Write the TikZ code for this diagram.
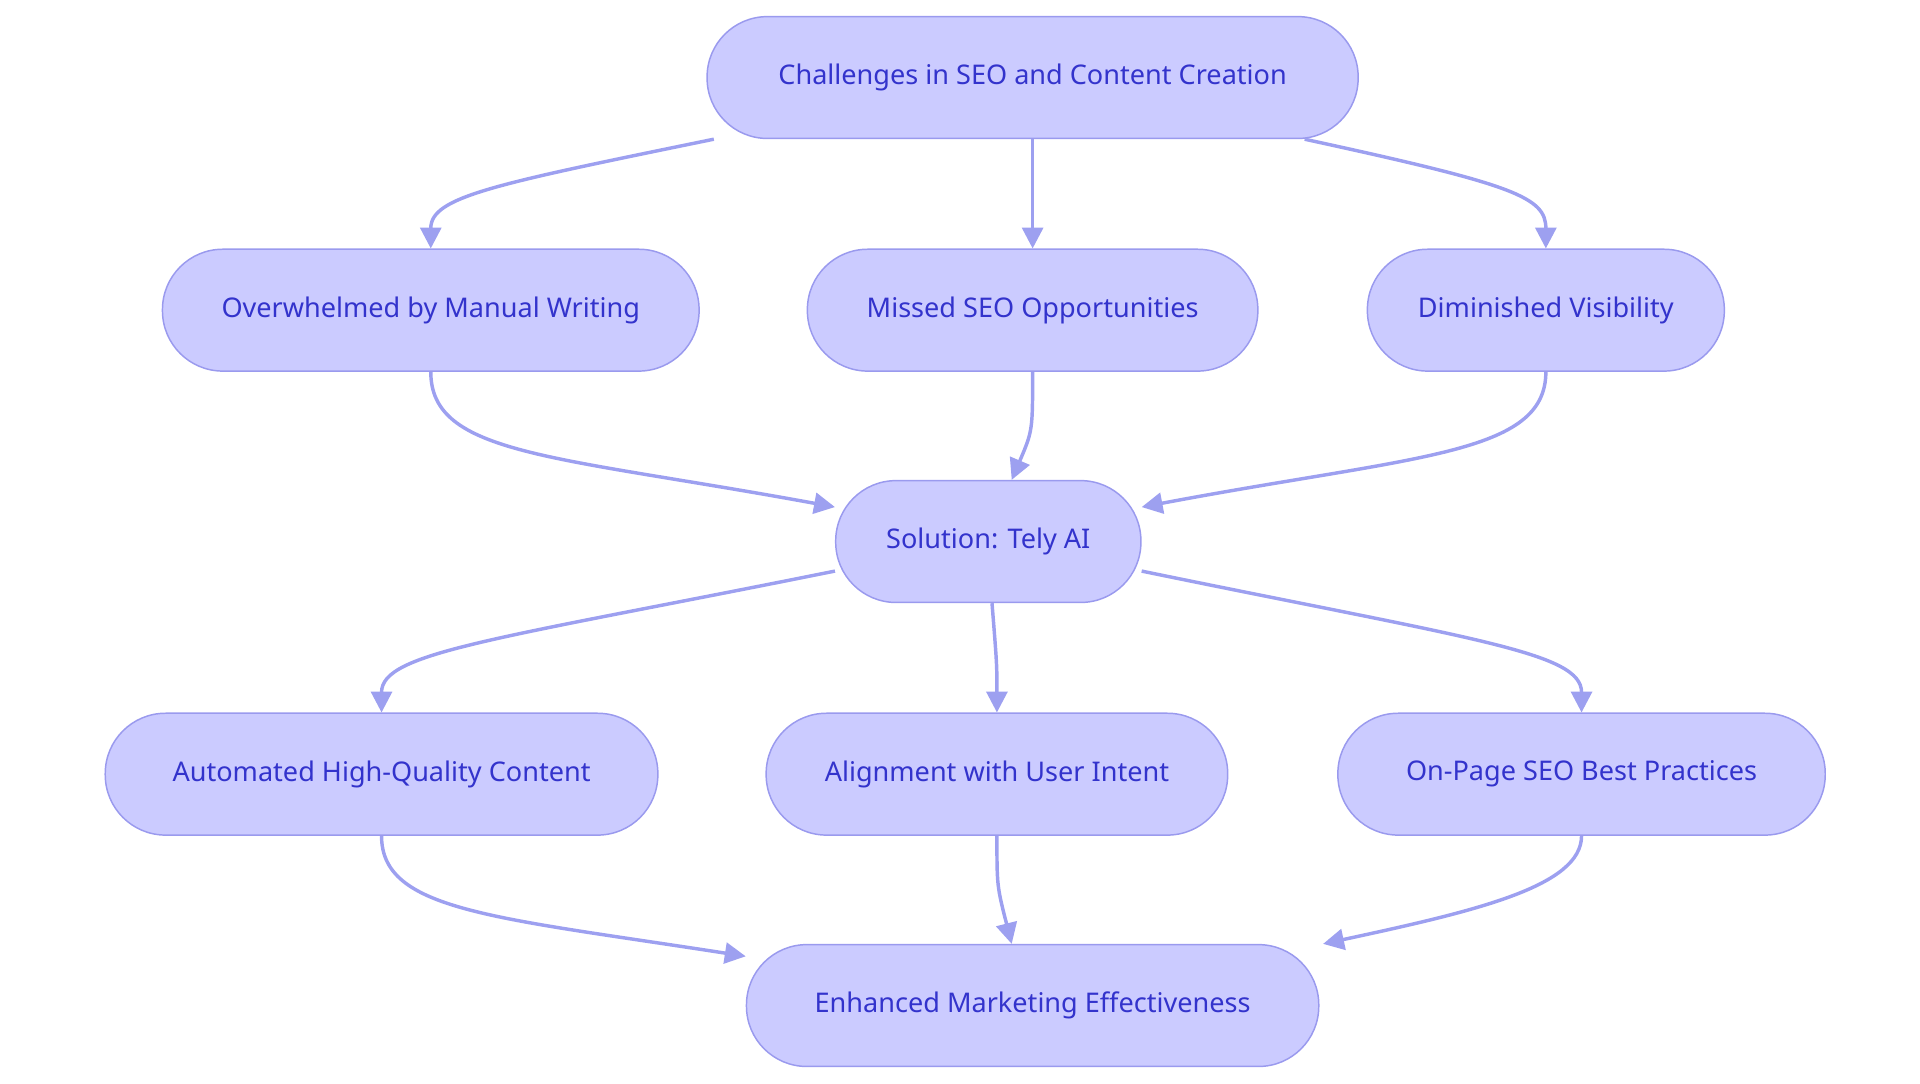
\documentclass[tikz,border=0pt]{standalone}
\usepackage{fontspec}
\setmainfont{Noto Sans}
\usetikzlibrary{arrows.meta,calc}
\definecolor{nfill}{HTML}{CBCBFF}
\definecolor{nline}{HTML}{9A9AEE}
\definecolor{ntext}{HTML}{3333CC}
\definecolor{eline}{HTML}{9DA0F0}
\begin{document}
\begin{tikzpicture}[x=1pt,y=-1pt,
  box/.style={draw=nline,fill=nfill,line width=1.2pt,rounded corners=49pt,minimum height=99pt,inner sep=0pt,text=ntext,font=\fontsize{22}{26}\selectfont},
  e/.style={draw=eline,line width=2.8pt,-{Triangle[length=17pt,width=17pt]}}]
\useasboundingbox (0,0) rectangle (1560,880);
\node[box,minimum width=529pt] (t) at (839,63) {Challenges in SEO and Content Creation};
\node[box,minimum width=436pt] (o) at (350,252) {Overwhelmed by Manual Writing};
\node[box,minimum width=366pt] (m) at (839,252) {Missed SEO Opportunities};
\node[box,minimum width=290pt] (d) at (1256,252) {Diminished Visibility};
\node[box,minimum width=248pt] (s) at (803,440) {Solution: Tely AI};
\node[box,minimum width=449pt] (a) at (310,629) {Automated High-Quality Content};
\node[box,minimum width=375pt] (al) at (810,629) {Alignment with User Intent};
\node[box,minimum width=396pt] (op) at (1285,629) {On-Page SEO Best Practices};
\node[box,minimum width=465pt] (en) at (839,817) {Enhanced Marketing Effectiveness};
\draw[e] ([xshift=-259pt]t.south) .. controls (400,150) and (350,160) .. (o.north);
\draw[e] (t.south) -- (m.north);
\draw[e] ([xshift=221pt]t.south) .. controls (1230,150) and (1256,160) .. (d.north);
\draw[e] (o.south) .. controls (350,370) and (450,370) .. ([yshift=28pt]s.west);
\draw[e] (m.south) .. controls (839,350) .. ([xshift=19pt]s.north);
\draw[e] (d.south) .. controls (1256,370) and (1150,370) .. ([yshift=28pt]s.east);
\draw[e] ([yshift=-24pt]s.west) .. controls (400,520) and (310,530) .. (a.north);
\draw[e] ([xshift=3pt]s.south) .. controls (810,540) .. (al.north);
\draw[e] ([yshift=-24pt]s.east) .. controls (1200,520) and (1285,530) .. (op.north);
\draw[e] (a.south) .. controls (310,740) and (400,745) .. ([yshift=40pt]en.west);
\draw[e] (al.south) .. controls (810,720) .. ([xshift=-17pt]en.north);
\draw[e] (op.south) .. controls (1285,720) and (1200,740) .. ([xshift=236pt]en.north);
\end{tikzpicture}
\end{document}
